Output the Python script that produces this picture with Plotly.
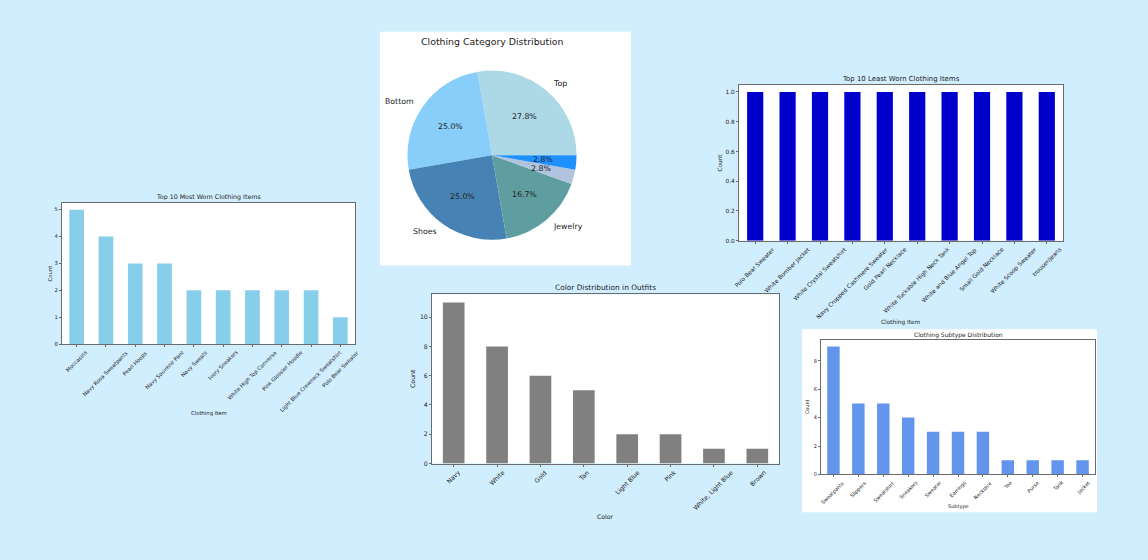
import plotly.graph_objects as go
import math

W, H = 1148, 560
BG = '#D1EEFE'
FONT = 'DejaVu Sans'
TXT = '#222222'
FRAME = '#6b6b6b'

# ---------------- data ----------------
most_items = ['Moccasins', 'Navy Rosa Sweatpants', 'Pearl Hoops', 'Navy Souvenir Pant',
              'Navy Sweats', 'Ivory Sneakers', 'White High Top Converse',
              'Pink Glossier Hoodie', 'Light Blue Crewneck Sweatshirt', 'Polo Bear Sweater']
most_counts = [5, 4, 3, 3, 2, 2, 2, 2, 2, 1]

least_items = ['Polo Bear Sweater', 'White Bomber Jacket', 'White Crystal Sweatshirt',
               'Navy Cropped Cashmere Sweater', 'Gold Pearl Necklace',
               'White Tuckable High Neck Tank', 'White and Blue Angel Top',
               'Small Gold Necklace', 'White Scoop Sweater', 'trouser/jeans']
least_counts = [1, 1, 1, 1, 1, 1, 1, 1, 1, 1]

cat_labels = ['Top', 'Bottom', 'Shoes', 'Jewelry', 'Bag', 'Outerwear']
cat_counts = [10, 9, 9, 6, 1, 1]
cat_colors = ['#ADD8E6', '#87CEFA', '#4682B4', '#5F9EA0', '#B0C4DE', '#1E90FF']

color_names = ['Navy', 'White', 'Gold', 'Tan', 'Light Blue', 'Pink', 'White, Light Blue', 'Brown']
color_counts = [11, 8, 6, 5, 2, 2, 1, 1]

subtypes = ['Sweatpants', 'Slippers', 'Sweatshirt', 'Sneakers', 'Sweater', 'Earrings',
            'Necklace', 'Tee', 'Purse', 'Tank', 'Jacket']
subtype_counts = [9, 5, 5, 4, 3, 3, 3, 1, 1, 1, 1]

most_yticks = [0, 1, 2, 3, 4, 5]
least_yticks = [0.0, 0.2, 0.4, 0.6, 0.8, 1.0]
color_yticks = [0, 2, 4, 6, 8, 10]
subtype_yticks = [0, 2, 4, 6, 8]


def px(x):
    return x / W


def py(y):
    return 1 - y / H


fig = go.Figure()
annotations = []
shapes = []
layout_axes = {}

# white cards
shapes.append(dict(type='rect', xref='paper', yref='paper', x0=px(380), x1=px(631),
                   y0=py(267), y1=py(32), fillcolor='white', line=dict(width=0), layer='below'))
shapes.append(dict(type='rect', xref='paper', yref='paper', x0=px(802), x1=px(1097),
                   y0=py(515), y1=py(331), fillcolor='white', line=dict(width=0), layer='below'))

bar_specs = [
    dict(n='', items=most_items, counts=most_counts, color='#87CEEB', box=(62, 204, 355, 346),
         yticks=most_yticks, fmt='d', title='Top 10 Most Worn Clothing Items', xtitle='Clothing Item',
         title_y=198, xtitle_y=416, ytitle_x=50, fs=5.3, tfs=6.3),
    dict(n='3', items=least_items, counts=least_counts, color='#0000CD', box=(739, 85, 1063, 242),
         yticks=least_yticks, fmt='.1f', title='Top 10 Least Worn Clothing Items', xtitle='Clothing Item',
         title_y=79, xtitle_y=324, ytitle_x=720, fs=5.8, tfs=6.95),
    dict(n='4', items=color_names, counts=color_counts, color='#808080', box=(432, 296, 779, 466),
         yticks=color_yticks, fmt='d', title='Color Distribution in Outfits', xtitle='Color',
         title_y=289, xtitle_y=519, ytitle_x=413, fs=6.2, tfs=7.4),
    dict(n='5', items=subtypes, counts=subtype_counts, color='#6495ED', box=(821, 342, 1095, 477),
         yticks=subtype_yticks, fmt='d', title='Clothing Subtype Distribution', xtitle='Subtype',
         title_y=337, xtitle_y=509, ytitle_x=807, fs=5.0, tfs=6.0),
]

for s in bar_specs:
    n = s['n']
    l, t, r, b = s['box']
    xa, ya = 'x' + n, 'y' + n
    fig.add_trace(go.Bar(x=s['items'], y=s['counts'], width=0.5, marker_color=s['color'],
                         marker_line_width=0, xaxis=xa, yaxis=ya, showlegend=False,
                         hoverinfo='skip'))
    ymax = max(s['counts']) * 1.05
    layout_axes['xaxis' + n] = dict(domain=[px(l), px(r)], anchor=ya, type='category',
                                   range=[-0.5, len(s['items']) - 0.5], showline=True, mirror=True,
                                   linecolor=FRAME, linewidth=1, ticks='outside', ticklen=2,
                                   tickcolor=FRAME, showticklabels=False, showgrid=False,
                                   zeroline=False, fixedrange=True)
    layout_axes['yaxis' + n] = dict(domain=[py(b), py(t)], anchor=xa, range=[0, ymax],
                                   tickvals=s['yticks'], tickformat=s['fmt'], showline=True,
                                   mirror=True, linecolor=FRAME, linewidth=1, ticks='outside',
                                   ticklen=2, tickcolor=FRAME, showgrid=False, zeroline=False,
                                   tickfont=dict(size=s['fs'], color=TXT, family=FONT),
                                   fixedrange=True)
    for item in s['items']:
        annotations.append(dict(x=item, y=py(b), xref=xa, yref='paper', text=item,
                                textangle=-45, xanchor='center', yanchor='top', yshift=-4,
                                showarrow=False, borderpad=0,
                                font=dict(size=s['fs'], color=TXT, family=FONT)))
    cx = (l + r) / 2
    annotations.append(dict(x=px(cx), y=py(s['title_y']), xref='paper', yref='paper',
                            text=s['title'], showarrow=False, xanchor='center', yanchor='middle',
                            font=dict(size=s['tfs'], color=TXT, family=FONT)))
    annotations.append(dict(x=px(cx), y=py(s['xtitle_y']), xref='paper', yref='paper',
                            text=s['xtitle'], showarrow=False, xanchor='center', yanchor='middle',
                            font=dict(size=s['fs'], color=TXT, family=FONT)))
    annotations.append(dict(x=px(s['ytitle_x']), y=py((t + b) / 2), xref='paper', yref='paper',
                            text='Count', textangle=-90, showarrow=False, xanchor='center',
                            yanchor='middle', font=dict(size=s['fs'], color=TXT, family=FONT)))

# ---------------- pie ----------------
pie_box = (407, 71, 577, 241)
pl, pt, pr, pb = pie_box
total = sum(cat_counts)
# first slice starts at 3 o'clock and runs counterclockwise (matplotlib default)
first_rot = 90 - 360 * cat_counts[0] / total
fig.add_trace(go.Pie(values=cat_counts, labels=cat_labels, marker=dict(colors=cat_colors, line=dict(width=0)),
                     sort=False, direction='counterclockwise', rotation=first_rot, textinfo='none',
                     hoverinfo='skip', showlegend=False,
                     domain=dict(x=[px(pl), px(pr)], y=[py(pb), py(pt)])))
fig.add_trace(go.Scatter(x=[0], y=[0], mode='markers', marker=dict(opacity=0), xaxis='x6',
                         yaxis='y6', showlegend=False, hoverinfo='skip'))
layout_axes['xaxis6'] = dict(domain=[px(pl), px(pr)], range=[-1, 1], visible=False, anchor='y6',
                             fixedrange=True)
layout_axes['yaxis6'] = dict(domain=[py(pb), py(pt)], range=[-1, 1], visible=False, anchor='x6',
                             fixedrange=True)

start = 0.0
for lab, v in zip(cat_labels, cat_counts):
    frac = v / total
    end = start + 360 * frac
    mid = math.radians((start + end) / 2)
    cx, cy = math.cos(mid), math.sin(mid)
    annotations.append(dict(x=1.1 * cx, y=1.1 * cy, xref='x6', yref='y6', text=lab,
                            showarrow=False, xanchor='left' if cx > 0 else 'right',
                            yanchor='middle', borderpad=0,
                            font=dict(size=7.8, color=TXT, family=FONT)))
    annotations.append(dict(x=0.6 * cx, y=0.6 * cy, xref='x6', yref='y6',
                            text=f'{100 * frac:.1f}%', showarrow=False, xanchor='center',
                            yanchor='middle', borderpad=0,
                            font=dict(size=7.8, color=TXT, family=FONT)))
    start = end

annotations.append(dict(x=px(492), y=py(42), xref='paper', yref='paper',
                        text='Clothing Category Distribution', showarrow=False,
                        xanchor='center', yanchor='middle',
                        font=dict(size=9.4, color=TXT, family=FONT)))

fig.update_layout(width=W, height=H, margin=dict(l=0, r=0, t=0, b=0),
                  paper_bgcolor=BG, plot_bgcolor='white',
                  font=dict(family=FONT, color=TXT),
                  annotations=annotations, shapes=shapes, showlegend=False,
                  **layout_axes)

fig.write_html('out.html', config={'displayModeBar': False})
